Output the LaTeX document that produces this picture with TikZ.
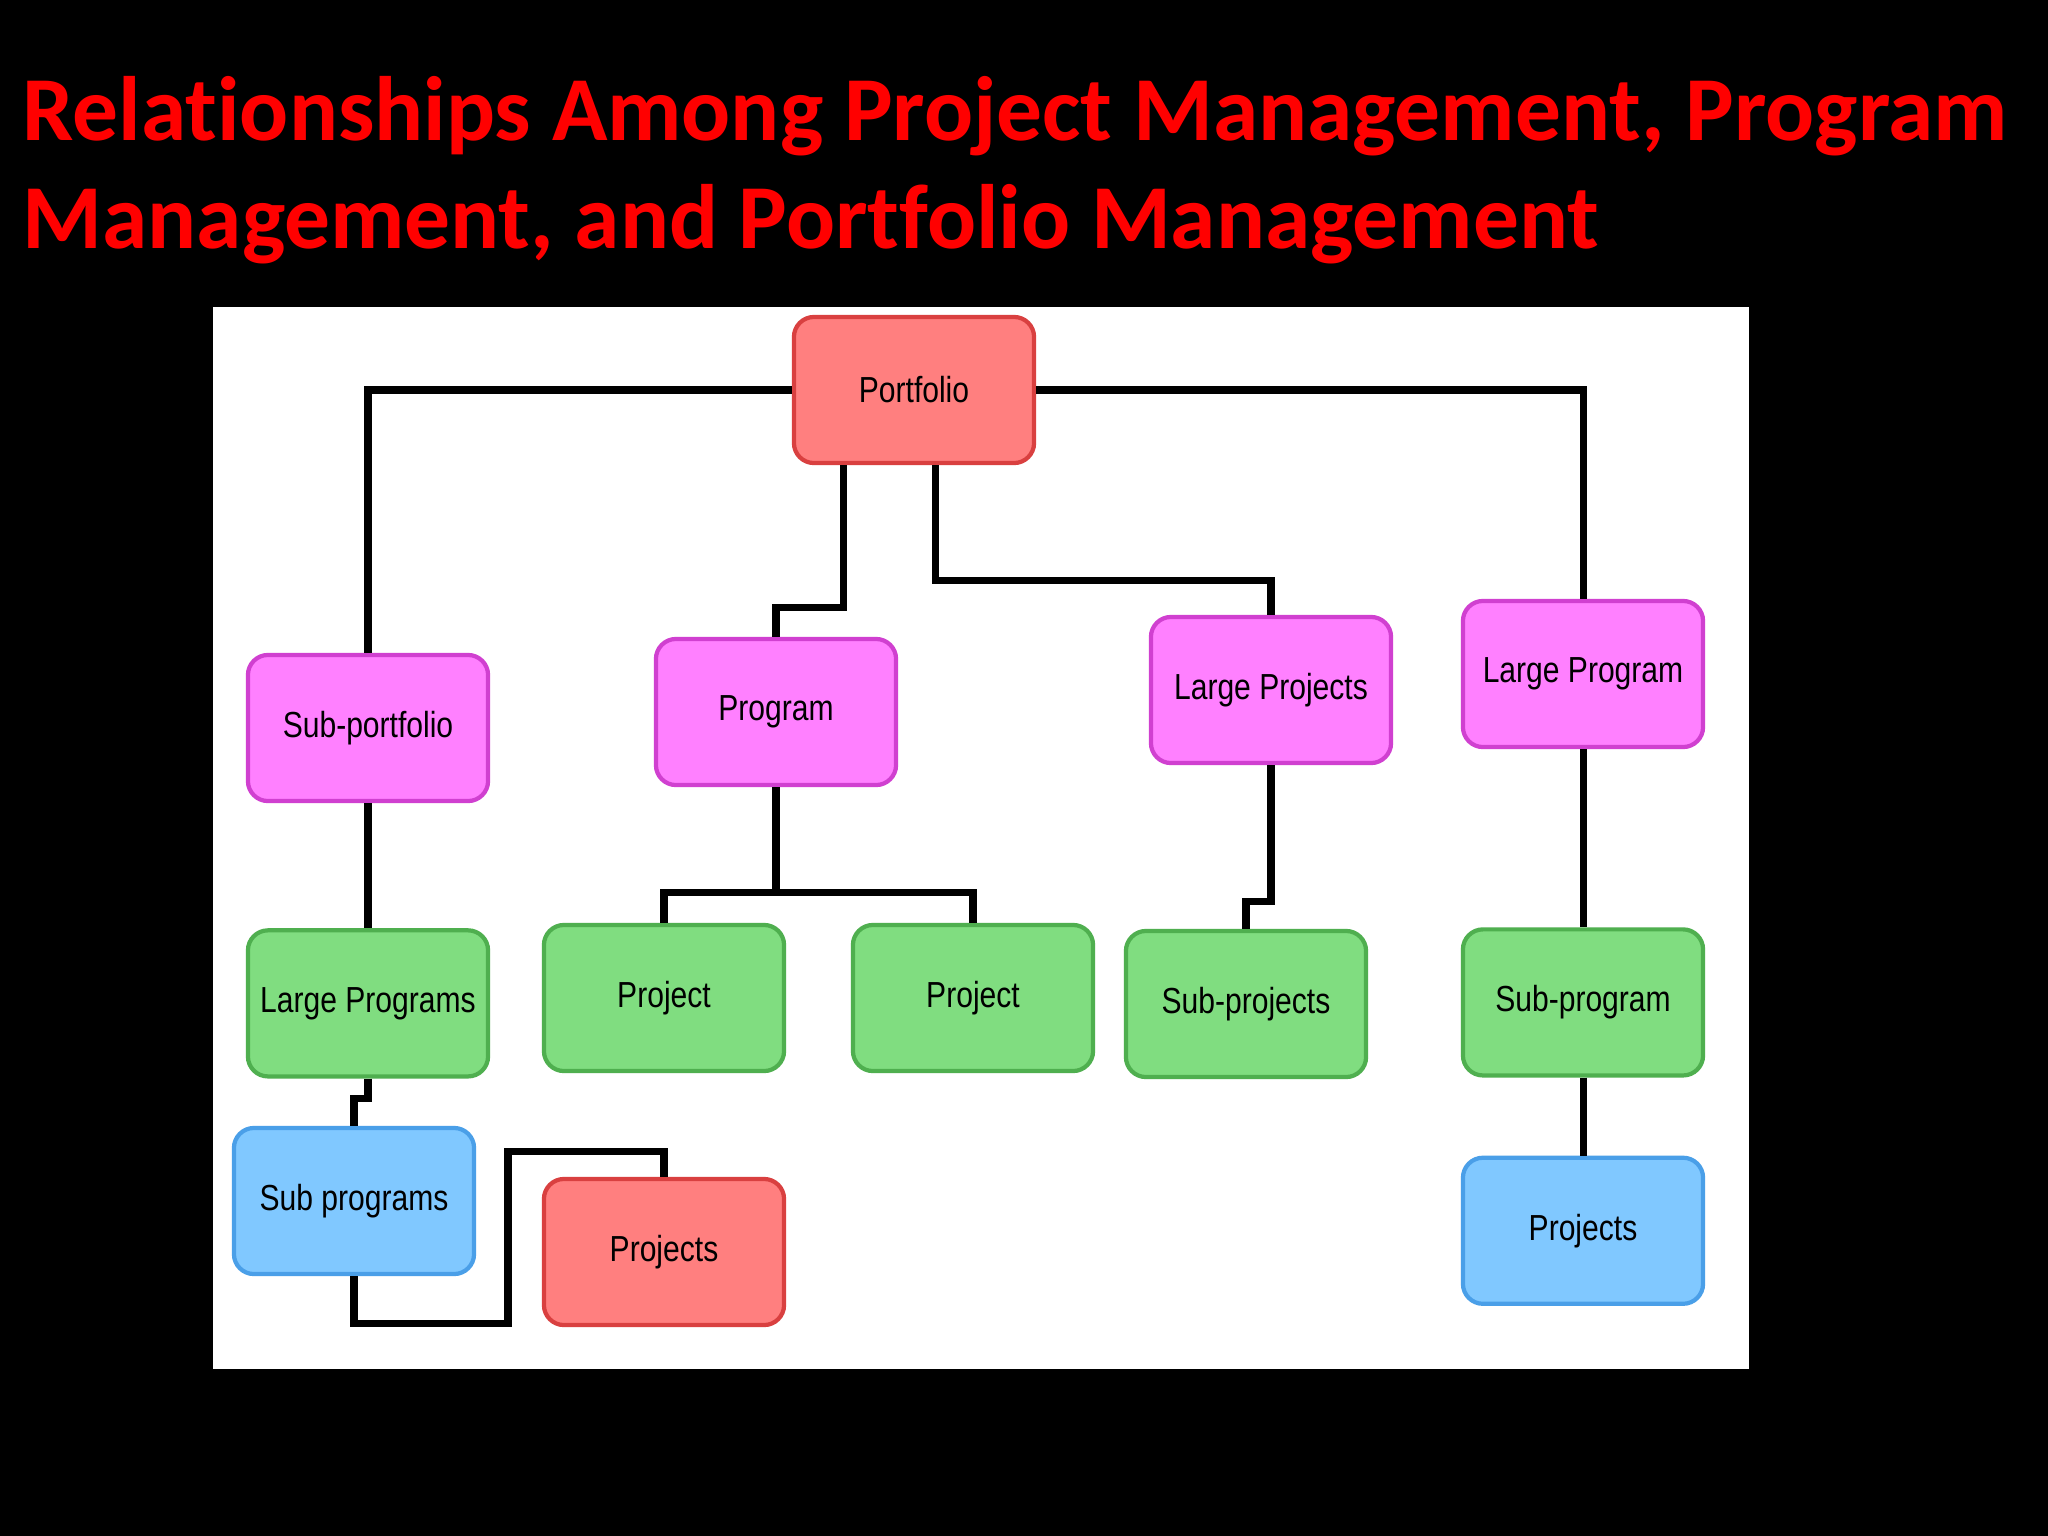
\documentclass[tikz,border=0pt]{standalone}
\usepackage{fontspec}
\setmainfont{Carlito}[Ligatures=NoCommon]
\newfontfamily\boxfont[FakeStretch=0.83]{Liberation Sans}
\usetikzlibrary{positioning}

\definecolor{redfill}{HTML}{FF7F7F}
\definecolor{reddraw}{HTML}{D94040}
\definecolor{pinkfill}{HTML}{FF80FF}
\definecolor{pinkdraw}{HTML}{D040D0}
\definecolor{greenfill}{HTML}{80DD80}
\definecolor{greendraw}{HTML}{4FAF4F}
\definecolor{bluefill}{HTML}{80C8FF}
\definecolor{bluedraw}{HTML}{4A9FE8}

\begin{document}
\begin{tikzpicture}[
        x=0.01cm, y=-0.01cm,
        box/.style={rectangle, draw, rounded corners=0.2cm, line width=1.2pt, minimum width=2.4cm, minimum height=1.46cm, inner sep=0pt, align=center, font=\boxfont\fontsize{10.3}{12}\selectfont},
        redbox/.style={box, fill=redfill, draw=reddraw},
        pinkbox/.style={box, fill=pinkfill, draw=pinkdraw},
        greenbox/.style={box, fill=greenfill, draw=greendraw},
        bluebox/.style={box, fill=bluefill, draw=bluedraw},
        link/.style={line width=2pt},
        node distance=1.25cm and 1cm
    ]
        % Page
        \useasboundingbox (0,0) rectangle (2048,1536);
        \fill[black] (0,0) rectangle (2048,1536);
        \fill[white] (213,307) rectangle (1749,1369);

        % Title
        \node[anchor=base west, inner sep=0pt, align=left, text=red, font=\bfseries\fontsize{26}{30.7}\selectfont] (title) at (22,248)
            {Relationships Among Project Management, Program\\Management, and Portfolio Management};

        % Top level
        \node[redbox] (portfolio) at (914,390) {Portfolio};

        % Second level
        \node[pinkbox] (subport) at (368,728) {Sub-portfolio};
        \node[pinkbox] (program) at (776,712) {Program};
        \node[pinkbox] (largeproj) at (1271,690) {Large Projects};
        \node[pinkbox] (largeprog) at (1583,674) {Large Program};

        % Third level
        \node[greenbox, below=of subport] (largeprogs) {Large Programs};
        \node[greenbox] (proj1) at (664,998) {Project};
        \node[greenbox] (proj2) at (973,998) {Project};
        \node[greenbox] (subproj) at (1246,1004) {Sub-projects};
        \node[greenbox, below=1.78cm of largeprog] (subprog) {Sub-program};

        % Bottom level
        \node[bluebox] (subprogs) at (354,1201) {Sub programs};
        \node[redbox] (projred) at (664,1252) {Projects};
        \node[bluebox, below=0.78cm of subprog] (projblue) {Projects};

        % Connectors
        \coordinate (bendA) at (508,1323);
        \coordinate (bendB) at (508,1151);
        \draw[link] (portfolio.west) -| (subport.north);
        \draw[link] (portfolio.east) -| (largeprog.north);
        \draw[link] ([xshift=-0.7cm]portfolio.south) |- ([yshift=0.29cm]program.north) -- (program.north);
        \draw[link] ([xshift=0.21cm]portfolio.south) |- ([yshift=0.34cm]largeproj.north) -- (largeproj.north);
        \draw[link] (subport) -- (largeprogs);
        \draw[link] (program.south) |- ([yshift=0.3cm]proj1.north) -- (proj1.north);
        \draw[link] (program.south) |- ([yshift=0.3cm]proj2.north) -- (proj2.north);
        \draw[link] (largeproj.south) |- ([yshift=0.27cm]subproj.north) -- (subproj.north);
        \draw[link] (largeprog) -- (subprog);
        \draw[link] (subprog) -- (projblue);
        \draw[link] (largeprogs.south) |- ([yshift=0.27cm]subprogs.north) -- (subprogs.north);
        \draw[link] (subprogs.south) |- (bendA) -- (bendB) -| (projred.north);
    \end{tikzpicture}
\end{document}
